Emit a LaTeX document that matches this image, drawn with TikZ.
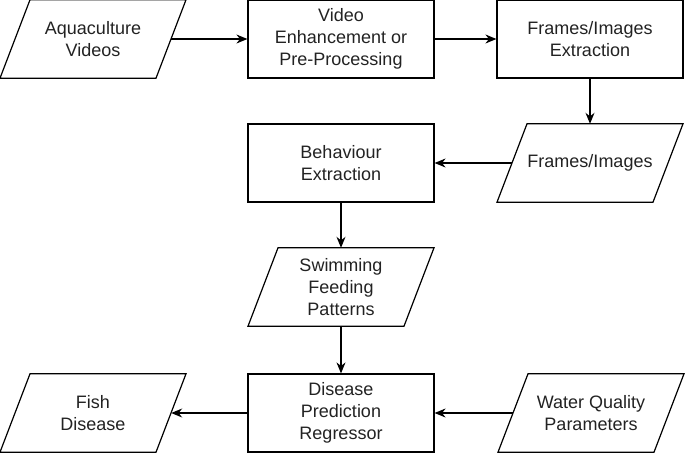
\documentclass[tikz,border=0pt]{standalone}
\usepackage{fontspec}
\setmainfont{Liberation Sans}
\usetikzlibrary{arrows.meta}
\definecolor{txt}{HTML}{222222}
\begin{document}
\begin{tikzpicture}[x=1pt,y=-1pt,
  lbl/.style={align=center,inner sep=0pt,font=\fontsize{18}{22}\selectfont,text=txt},
  box/.style={lbl,draw,line width=1.2pt,minimum width=186pt,minimum height=78pt},
  io/.style={lbl,minimum width=156pt,minimum height=78pt},
  arr/.style={-{Stealth[length=11pt,width=9pt]},line width=1.2pt}]
\useasboundingbox (0,0) rectangle (685,453);
\node[io]  (A) at (93,39)  {Aquaculture\\Videos};
\node[box] (B) at (341,39) {Video\\Enhancement or\\Pre-Processing};
\node[box] (C) at (590,39) {Frames/Images\\Extraction};
\node[io]  (D) at (590,163) {Frames/Images};
\node[box] (E) at (341,163) {Behaviour\\Extraction};
\node[io]  (F) at (341,287) {Swimming\\Feeding\\Patterns};
\node[box] (G) at (341,413) {Disease\\Prediction\\Regressor};
\node[io]  (H) at (93,413)  {Fish\\Disease};
\node[io]  (W) at (591,413) {Water Quality\\Parameters};
\foreach \n in {A,D,F,H,W}
  \draw[line width=1.2pt] ([xshift=-63pt]\n.north) -- ([xshift=93pt]\n.north)
     -- ([xshift=63pt]\n.south) -- ([xshift=-93pt]\n.south) -- cycle;
\draw[arr] (A.east) -- (B.west);
\draw[arr] (B.east) -- (C.west);
\draw[arr] (C.south) -- (D.north);
\draw[arr] (D.west) -- (E.east);
\draw[arr] (E.south) -- (F.north);
\draw[arr] (F.south) -- (G.north);
\draw[arr] (G.west) -- (H.east);
\draw[arr] (W.west) -- (G.east);
\end{tikzpicture}
\end{document}
